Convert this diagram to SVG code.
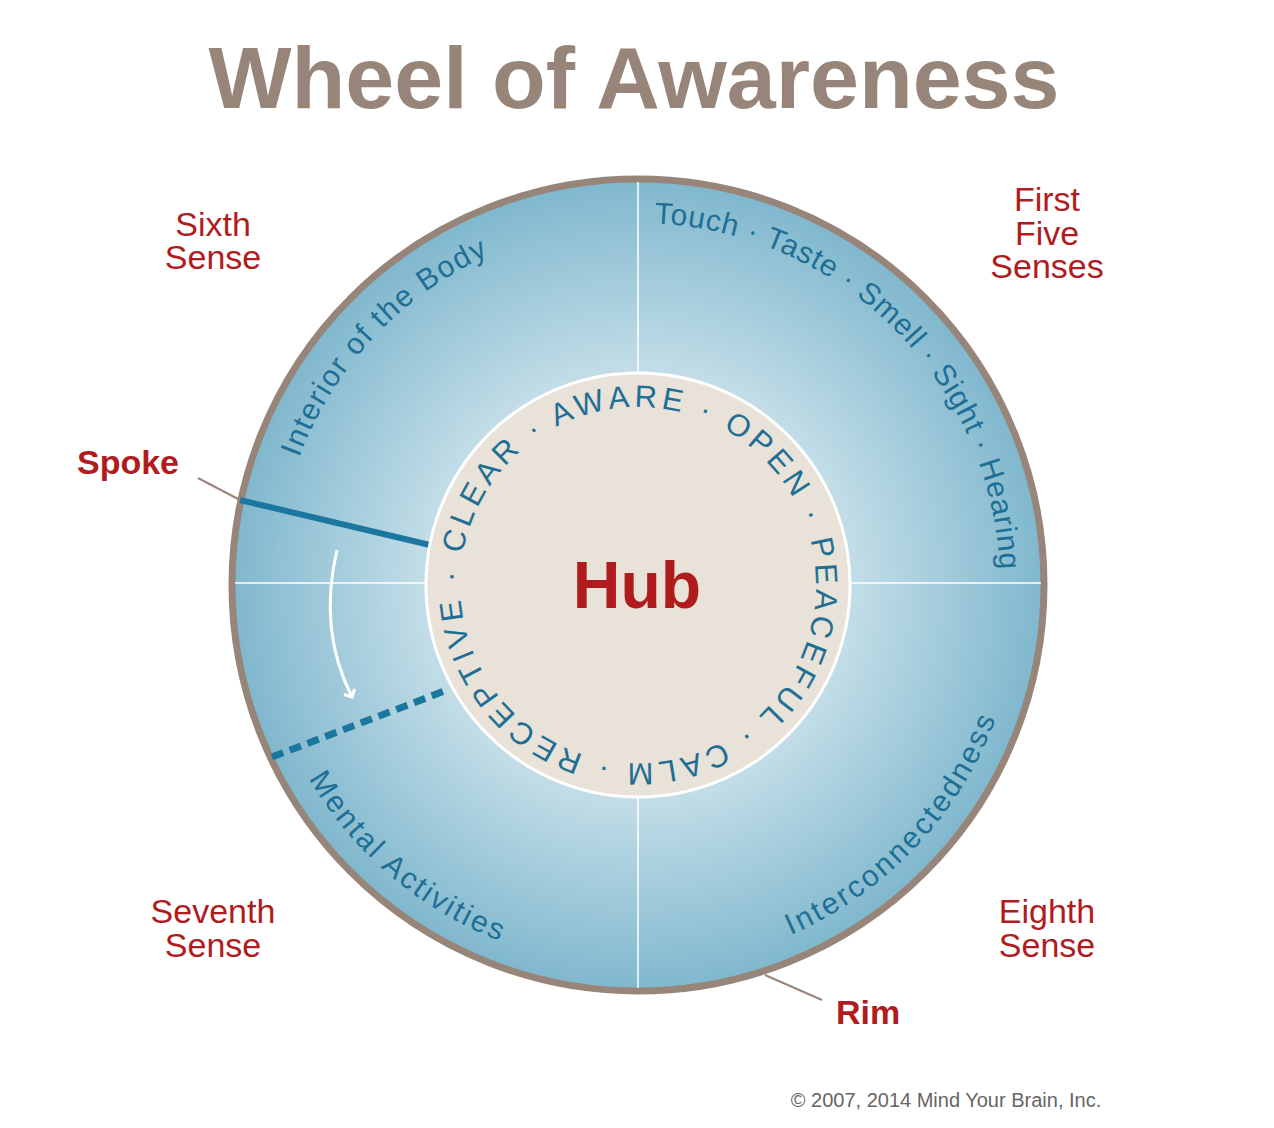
<svg xmlns="http://www.w3.org/2000/svg" xmlns:xlink="http://www.w3.org/1999/xlink" width="1274" height="1128" viewBox="0 0 1274 1128">
<style>
.red{fill:#b01c1e;font-family:"Liberation Sans",Arial,sans-serif;font-size:34px;text-anchor:middle}
.b{font-weight:bold}
.blue{fill:#1f6f95;font-family:"Liberation Sans",Arial,sans-serif;font-size:30px}
.hubt{fill:#1f6f95;font-family:"Liberation Sans",Arial,sans-serif;font-size:31px}
.lead{stroke:#9a8478;stroke-width:2;fill:none}
</style>
<defs>
<radialGradient id="g" cx="638" cy="585" r="408" gradientUnits="userSpaceOnUse">
<stop offset="0.3" stop-color="#e2eff4"/><stop offset="1" stop-color="#7fb7cd"/>
</radialGradient>
<path id="hp" d="M462.7,554.1 A178,178 0 1,1 813.3,616 A178,178 0 1,1 462.7,554.1"/>
<path id="tp1" d="M638,223 A362,362 0 0,1 1000,585"/>
<path id="tp2" d="M276,585 A362,362 0 0,1 638,223"/>
<path id="tp3" d="M256,585 A382,382 0 0,0 638,967"/>
<path id="tp4" d="M638,967 A382,382 0 0,0 1020,585"/>
<marker id="ah" markerWidth="14" markerHeight="14" refX="7" refY="7" orient="auto" markerUnits="userSpaceOnUse"><path d="M1,1 L7,7 L1,13" fill="none" stroke="#fff" stroke-width="3"/></marker>
</defs>
<text x="634" y="108" text-anchor="middle" font-family="'Liberation Sans',Arial,sans-serif" font-weight="bold" font-size="88" fill="#98857a">Wheel of Awareness</text>
<g id="wheel">
<circle cx="638" cy="585" r="406" fill="url(#g)" stroke="#98857a" stroke-width="7"/>
<line x1="638" y1="182" x2="638" y2="988" stroke="#fff" stroke-width="1.5"/>
<line x1="235" y1="583" x2="1041" y2="583" stroke="#fff" stroke-width="1.5"/>
<text class="blue"><textPath xlink:href="#tp1" startOffset="16" textLength="537" lengthAdjust="spacing">Touch · Taste · Smell · Sight · Hearing</textPath></text>
<text class="blue"><textPath xlink:href="#tp2" startOffset="130" textLength="284" lengthAdjust="spacing">Interior of the Body</textPath></text>
<text class="blue"><textPath xlink:href="#tp3" startOffset="203" textLength="255" lengthAdjust="spacing">Mental Activities</textPath></text>
<text class="blue"><textPath xlink:href="#tp4" startOffset="157" textLength="306" lengthAdjust="spacing">Interconnectedness</textPath></text>
</g>
<g id="connectors">
<line x1="240" y1="500" x2="430" y2="545" stroke="#1b77a0" stroke-width="6"/>
<line x1="272" y1="757" x2="447" y2="690" stroke="#1b77a0" stroke-width="7" stroke-dasharray="12,7"/>
<path d="M337,550 Q318,630 352,697" fill="none" stroke="#fff" stroke-width="3" marker-end="url(#ah)"/>
<line class="lead" x1="198" y1="478" x2="240" y2="500"/>
<line class="lead" x1="765" y1="975" x2="822" y2="1000"/>
</g>
<g id="hub">
<circle cx="638" cy="585" r="212" fill="#e8e2d8" stroke="#fff" stroke-width="3"/>
<text class="hubt"><textPath xlink:href="#hp" textLength="1100" lengthAdjust="spacing">CLEAR · AWARE · OPEN · PEACEFUL · CALM · RECEPTIVE ·</textPath></text>
<text x="637" y="608" class="red b" style="font-size:66px">Hub</text>
</g>
<g id="labels">
<text class="red"><tspan x="213" y="236">Sixth</tspan><tspan x="213" y="269">Sense</tspan></text>
<text class="red"><tspan x="1047" y="211">First</tspan><tspan x="1047" y="245">Five</tspan><tspan x="1047" y="278">Senses</tspan></text>
<text class="red"><tspan x="213" y="923">Seventh</tspan><tspan x="213" y="957">Sense</tspan></text>
<text class="red"><tspan x="1047" y="923">Eighth</tspan><tspan x="1047" y="957">Sense</tspan></text>
<text x="128" y="474" class="red b">Spoke</text>
<text x="868" y="1024" class="red b">Rim</text>
</g>
<text x="946" y="1107" text-anchor="middle" font-family="'Liberation Sans',Arial,sans-serif" font-size="20" fill="#666">© 2007, 2014 Mind Your Brain, Inc.</text>
</svg>
